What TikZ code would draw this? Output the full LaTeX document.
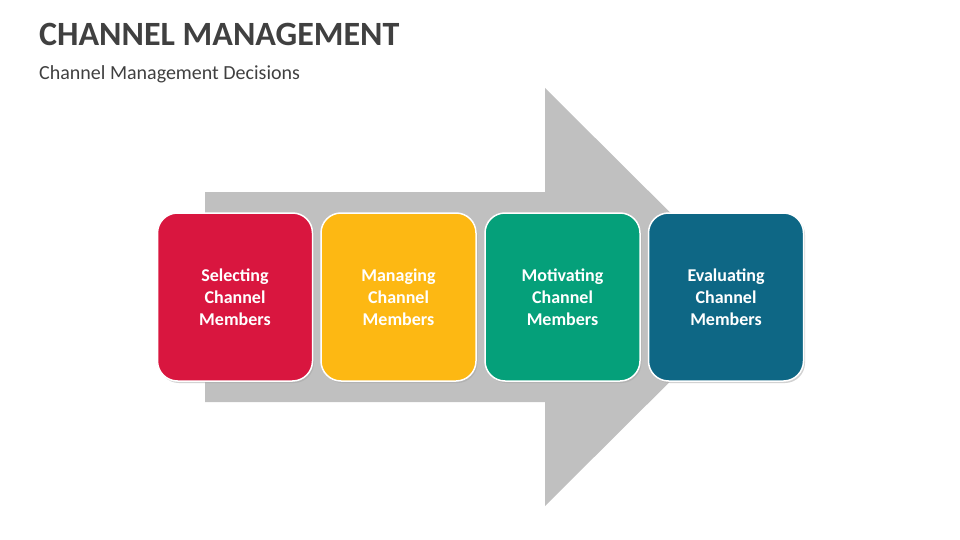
\documentclass[tikz,border=0pt]{standalone}
\usepackage{fontspec}
\setmainfont{Carlito}
\definecolor{cred}{HTML}{D9163F}
\definecolor{cyel}{HTML}{FDB813}
\definecolor{cgrn}{HTML}{05A07A}
\definecolor{cteal}{HTML}{0E6785}
\definecolor{arrowgray}{HTML}{C0C0C0}
\definecolor{titlegray}{HTML}{404040}
\begin{document}
\begin{tikzpicture}[x=1pt,y=-1pt,
  card/.style={draw=white,line width=1.5pt,rounded corners=20pt,minimum width=155pt,minimum height=168pt,
    text=white,align=center,font=\fontsize{18}{22}\selectfont\bfseries,
    preaction={fill=black!35,opacity=0.5,transform canvas={xshift=1.5pt,yshift=-2pt}}}]
\useasboundingbox (0,0) rectangle (960,540);
\node[anchor=base west,text=titlegray,font=\fontsize{34}{40}\selectfont\bfseries,inner sep=0] (title) at (39,46) {CHANNEL MANAGEMENT};
\node[anchor=base west,text=titlegray,font=\fontsize{20}{24}\selectfont,inner sep=0] (sub) at (39,80) {Channel Management Decisions};
\fill[arrowgray] (205,192) -- (545,192) -- (545,88) -- (755,297) -- (545,506) -- (545,402) -- (205,402) -- cycle;
\node[card,fill=cred] (b1) at (235,297) {Selecting\\Channel\\Members};
\node[card,fill=cyel] (b2) at (398.5,297) {Managing\\Channel\\Members};
\node[card,fill=cgrn] (b3) at (562.5,297) {Motivating\\Channel\\Members};
\node[card,fill=cteal] (b4) at (726,297) {Evaluating\\Channel\\Members};
\end{tikzpicture}
\end{document}
